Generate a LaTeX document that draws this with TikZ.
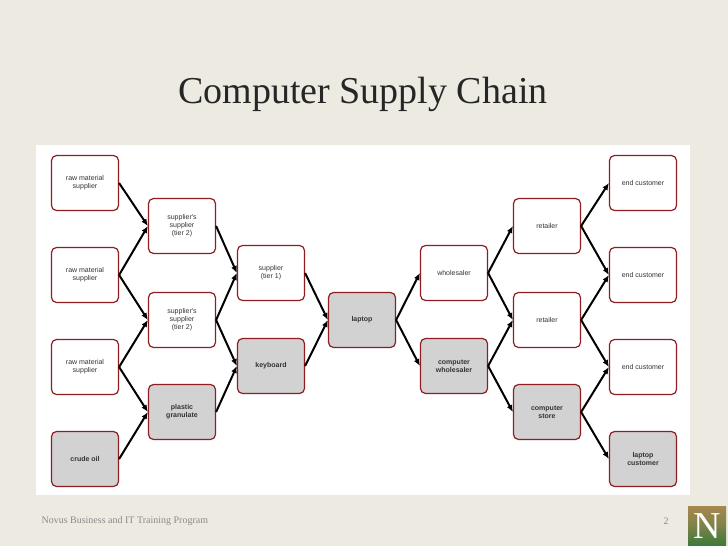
\documentclass[tikz,border=0pt]{standalone}
\usepackage{fontspec}
\setmainfont{Liberation Serif}
\newfontfamily\boxfont{Liberation Sans}
\usetikzlibrary{arrows.meta}
\definecolor{slidebg}{HTML}{EDEAE2}
\definecolor{boxred}{HTML}{8E1E22}
\definecolor{greyfill}{HTML}{D2D2D2}
\definecolor{footgrey}{HTML}{8A8A8A}
\definecolor{logotop}{HTML}{A88850}
\definecolor{logobot}{HTML}{3E7A3A}
\tikzset{
  chainbox/.style={draw=boxred, line width=1.2pt, rounded corners=5pt, fill=white,
    minimum width=67pt, minimum height=55pt, align=center, font=\boxfont\fontsize{7}{8}\selectfont, text=black!80},
  greybox/.style={chainbox, fill=greyfill, font=\boxfont\bfseries\fontsize{7}{8}\selectfont},
  flow/.style={line width=2pt, -{Latex[length=7pt,width=6pt]}}
}
\begin{document}
\begin{tikzpicture}[x=1pt,y=-1pt]
\fill[slidebg] (0,0) rectangle (728,546);
\useasboundingbox (0,0) rectangle (728,546);
\fill[white] (36,145) rectangle (690,495);
\node[font=\fontsize{38}{44}\selectfont, text=black!85] (title) at (363,94) {Computer Supply Chain};
% column 1
\node[chainbox] (r1) at (85,183) {raw material\\supplier};
\node[chainbox] (r2) at (85,275) {raw material\\supplier};
\node[chainbox] (r3) at (85,367) {raw material\\supplier};
\node[greybox] (crude) at (85,459) {crude oil};
% column 2
\node[chainbox] (ss1) at (182,226) {supplier's\\supplier\\(tier 2)};
\node[chainbox] (ss2) at (182,320) {supplier's\\supplier\\(tier 2)};
\node[greybox] (plast) at (182,412) {plastic\\granulate};
% column 3
\node[chainbox] (s1) at (271,273) {supplier\\(tier 1)};
\node[greybox] (kb) at (271,366) {keyboard};
% column 4
\node[greybox] (lap) at (362,320) {laptop};
% column 5
\node[chainbox] (wh) at (454,273) {wholesaler};
\node[greybox] (cwh) at (454,366) {computer\\wholesaler};
% column 6
\node[chainbox] (ret1) at (547,226) {retailer};
\node[chainbox] (ret2) at (547,320) {retailer};
\node[greybox] (cs) at (547,412) {computer\\store};
% column 7
\node[chainbox] (e1) at (643,183) {end customer};
\node[chainbox] (e2) at (643,275) {end customer};
\node[chainbox] (e3) at (643,367) {end customer};
\node[greybox] (lc) at (643,459) {laptop\\customer};
% arrows
\foreach \a/\b in {r1/ss1,r2/ss1,r2/ss2,r3/ss2,r3/plast,crude/plast,
  ss1/s1,ss2/s1,ss2/kb,plast/kb,s1/lap,kb/lap,lap/wh,lap/cwh,
  wh/ret1,wh/ret2,cwh/ret2,cwh/cs,ret1/e1,ret1/e2,ret2/e2,ret2/e3,cs/e3,cs/lc}
  \draw[flow] (\a.east) -- (\b.west);
% footer
\node[anchor=west, font=\fontsize{10}{12}\selectfont, text=footgrey] (foot) at (38,521) {Novus Business and IT Training Program};
\node[font=\fontsize{10}{12}\selectfont, text=footgrey] (pg) at (666,521) {2};
\shade[top color=logotop, bottom color=logobot, middle color=logotop!60!logobot] (688,506) rectangle (726,545);
\node[font=\fontsize{38}{38}\selectfont, text=white] (logo) at (707,526) {N};
\end{tikzpicture}
\end{document}
